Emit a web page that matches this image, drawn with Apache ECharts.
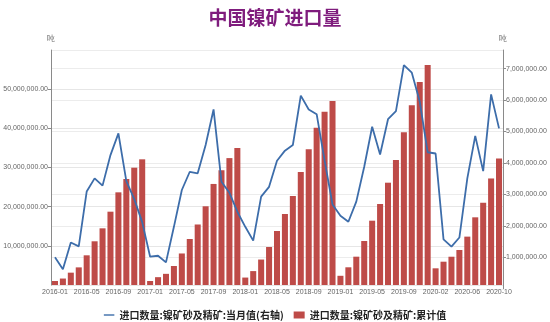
<!DOCTYPE html>
<html>
<head>
<meta charset="utf-8">
<script src="https://cdn.jsdelivr.net/npm/echarts@6/dist/echarts.min.js"></script>
<style>html,body{margin:0;padding:0;background:#fff}#c{width:550px;height:322px}</style>
</head>
<body>
<div id="c"></div>
<script>
const categories = [
  '2016-01','2016-02','2016-03','2016-04','2016-05','2016-06','2016-07','2016-08','2016-09','2016-10','2016-11','2016-12',
  '2017-01','2017-02','2017-03','2017-04','2017-05','2017-06','2017-07','2017-08','2017-09','2017-10','2017-11','2017-12',
  '2018-01','2018-02','2018-03','2018-04','2018-05','2018-06','2018-07','2018-08','2018-09','2018-10','2018-11','2018-12',
  '2019-01','2019-02','2019-03','2019-04','2019-05','2019-06','2019-07','2019-08','2019-09','2019-10','2019-11','2019-12',
  '2020-02','2020-03','2020-04','2020-05','2020-06','2020-07','2020-08','2020-09','2020-10'
];
// 当月值 (tons), right axis
const monthly = [
  1000000, 620000, 1470000, 1350000, 3090000, 3510000, 3280000, 4250000, 4940000, 3420000, 2850000, 2120000,
  1020000, 1050000, 840000, 1970000, 3140000, 3720000, 3670000, 4570000, 5700000, 3400000, 3050000, 2450000,
  1970000, 1530000, 2930000, 3240000, 4070000, 4390000, 4570000, 6140000, 5700000, 5550000, 4080000, 2680000,
  2320000, 2130000, 2770000, 3880000, 5150000, 4270000, 5390000, 5650000, 7110000, 6870000, 5950000, 4340000,
  4300000, 1570000, 1340000, 1630000, 3510000, 4860000, 3740000, 6180000, 5100000
];
// 累计值 (tons), left axis
const cumulative = [
  1020000, 1650000, 3150000, 4500000, 7580000, 11160000, 14470000, 18720000, 23660000, 27060000, 29950000, 32090000,
  1020000, 2000000, 2850000, 4850000, 8050000, 11740000, 15450000, 20100000, 25800000, 29300000, 32400000, 35000000,
  1900000, 3550000, 6500000, 9700000, 13790000, 18130000, 22720000, 28850000, 34640000, 40170000, 44250000, 46970000,
  2350000, 4520000, 7230000, 11230000, 16420000, 20680000, 26120000, 31910000, 38980000, 45880000, 51830000, 56170000,
  4260000, 5950000, 7220000, 8940000, 12350000, 17280000, 21000000, 27200000, 32300000
];
const seriesNames = ['进口数量:镍矿砂及精矿:当月值(右轴)', '进口数量:镍矿砂及精矿:累计值'];
const titleText = '中国镍矿进口量';
const unitName = '吨';

function fmt(v) {
  const s = Math.round(v).toString().replace(/\B(?=(\d{3})+(?!\d))/g, ',');
  return s + '.00';
}

const chart = echarts.init(document.getElementById('c'), null, {renderer: 'canvas'});
const axisLabelStyle = {color: '#666', fontSize: 7, fontFamily: 'Liberation Sans, Arial, sans-serif'};
chart.setOption({
  animation: false,
  title: {
    text: titleText, left: 'center', top: 3,
    textStyle: {color: '#7F1C7D', fontSize: 19, fontWeight: 'bold', fontFamily: 'Noto Sans CJK SC'}
  },
  legend: {
    data: [
      {name: seriesNames[0], icon: 'path://M0,0L0,0M0,3.2L12,3.2L12,4.8L0,4.8ZM12,8L12,8'},
      {name: seriesNames[1], icon: 'rect'}
    ],
    left: 'center', top: 305, itemWidth: 11, itemHeight: 7, itemGap: 10,
    textStyle: {color: '#222', fontSize: 10, fontWeight: 'bold', fontFamily: 'Noto Sans CJK SC'}
  },
  grid: [
    {left: 51, right: 47, top: 50, bottom: 37},
    {left: 51, right: 47, top: 50, bottom: 33.2}
  ],
  xAxis: [
    {
      type: 'category', gridIndex: 0, data: categories,
      axisLine: {show: false}, axisTick: {show: false},
      axisLabel: Object.assign({interval: 3, margin: 4}, axisLabelStyle)
    },
    {
      type: 'category', gridIndex: 1, data: categories, show: false
    }
  ],
  yAxis: [
    {
      type: 'value', gridIndex: 0, min: 0, max: 60000000, interval: 10000000,
      name: unitName, nameLocation: 'end', nameGap: 7,
      nameTextStyle: {color: '#666', fontSize: 8},
      axisLine: {show: true, lineStyle: {color: '#8a8a8a'}},
      axisTick: {show: true, length: 3, lineStyle: {color: '#8a8a8a'}},
      axisLabel: Object.assign({formatter: fmt, showMinLabel: false, showMaxLabel: false, margin: 3}, axisLabelStyle),
      splitLine: {show: true, lineStyle: {color: '#e6e6e6'}}
    },
    {
      type: 'value', gridIndex: 1, position: 'right', min: 0, max: 7590000, interval: 1000000,
      name: unitName, nameLocation: 'end', nameGap: 7,
      nameTextStyle: {color: '#666', fontSize: 8},
      axisLine: {show: true, lineStyle: {color: '#8a8a8a'}},
      axisTick: {show: true, length: 3, lineStyle: {color: '#8a8a8a'}},
      axisLabel: Object.assign({formatter: fmt, showMinLabel: false, showMaxLabel: false, margin: 3}, axisLabelStyle),
      splitLine: {show: true, lineStyle: {color: '#ececec'}}
    }
  ],
  series: [
    {
      name: seriesNames[1], type: 'bar', xAxisIndex: 0, yAxisIndex: 0,
      data: cumulative, barCategoryGap: '24%',
      itemStyle: {color: '#BE4B48'}, z: 2
    },
    {
      name: seriesNames[0], type: 'line', xAxisIndex: 1, yAxisIndex: 1,
      data: monthly, symbol: 'none', showSymbol: false,
      lineStyle: {color: '#3D6DAA', width: 1.8},
      itemStyle: {color: '#3D6DAA'}, z: 3
    }
  ]
});
</script>
</body>
</html>
